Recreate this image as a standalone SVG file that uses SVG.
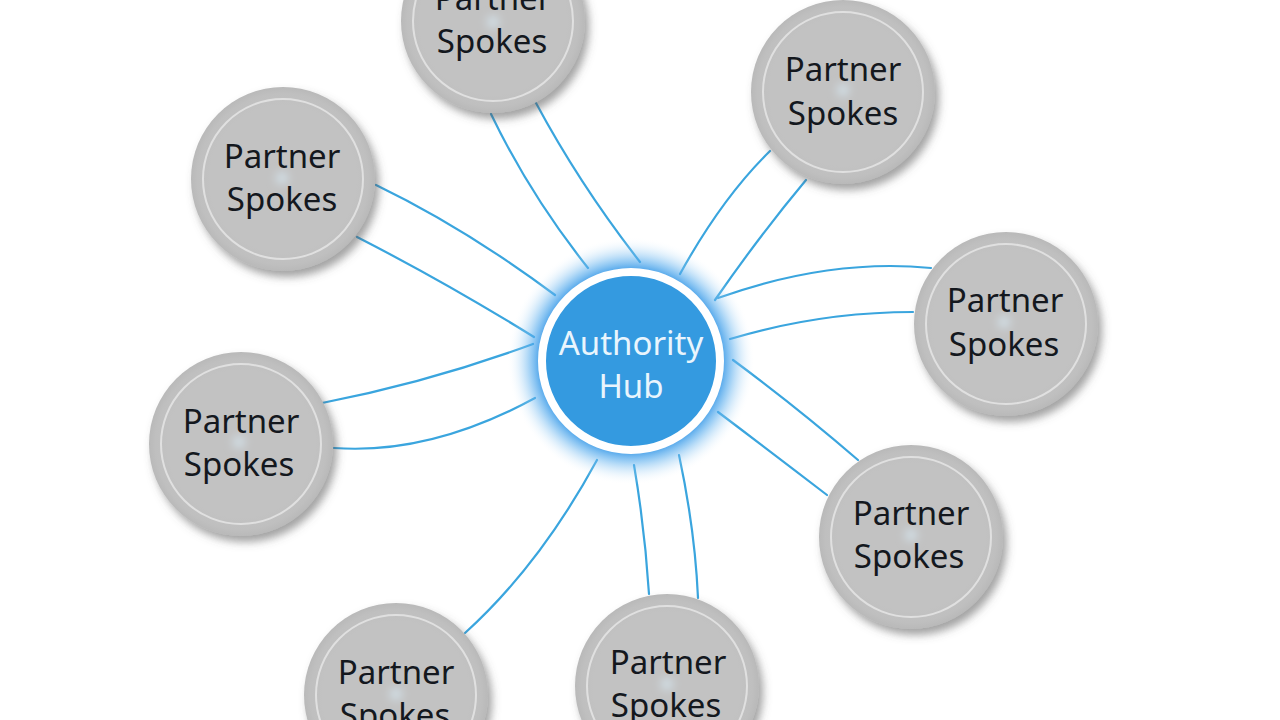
<svg xmlns="http://www.w3.org/2000/svg" width="1280" height="720" viewBox="0 0 1280 720">
<style>
.c{fill:none;stroke:#3aa5de;stroke-width:2.2;stroke-linecap:round}
.d{fill:url(#disc);filter:url(#sh)}
.r{fill:none;stroke:#e0e0e0;stroke-width:2}
.s{fill:#d4e2ea;filter:url(#b4)}
.t{font-family:"Noto Sans","Open Sans",sans-serif;font-size:33px;fill:#14181e;text-anchor:middle}
.h{font-family:"Noto Sans","Open Sans",sans-serif;font-size:33px;fill:#e9f5fd;text-anchor:middle}
</style>
<defs>
<radialGradient id="disc"><stop offset="0.8" stop-color="#c2c2c2"/><stop offset="0.93" stop-color="#bfbfbf"/><stop offset="1" stop-color="#b9b9b9"/></radialGradient>
<radialGradient id="halo"><stop offset="0.72" stop-color="#2f94e6" stop-opacity="0.95"/><stop offset="0.82" stop-color="#5aaeee" stop-opacity="0.55"/><stop offset="0.92" stop-color="#a5d3f5" stop-opacity="0.2"/><stop offset="1" stop-color="#fff" stop-opacity="0"/></radialGradient>
<filter id="sh" x="-20%" y="-20%" width="140%" height="140%"><feDropShadow dx="4" dy="6" stdDeviation="4" flood-color="#555" flood-opacity="0.55"/></filter>
<filter id="b4" x="-100%" y="-100%" width="300%" height="300%"><feGaussianBlur stdDeviation="5"/></filter>
</defs>
<rect width="1280" height="720" fill="#fff"/>
<g id="connectors">
<path class="c" d="M491 114Q530 195 588 268"/>
<path class="c" d="M536 103Q580 185 640 262"/>
<path class="c" d="M770 151Q722 198 680 274"/>
<path class="c" d="M806 180Q760 235 715 300"/>
<path class="c" d="M931 268Q830 258 718 298"/>
<path class="c" d="M913 312Q820 312 730 339"/>
<path class="c" d="M858 460Q798 408 733 360"/>
<path class="c" d="M827 495Q775 455 718 412"/>
<path class="c" d="M698 598Q695 530 679 455"/>
<path class="c" d="M649 594Q645 530 634 465"/>
<path class="c" d="M465 633Q540 565 597 460"/>
<path class="c" d="M334 448Q430 455 535 398"/>
<path class="c" d="M322 403Q430 382 533 344"/>
<path class="c" d="M357 237Q445 282 534 337"/>
<path class="c" d="M376 185Q465 228 555 295"/>
</g>
<g id="hub">
<circle cx="631" cy="361" r="124" fill="url(#halo)"/>
<circle cx="631" cy="361" r="89" fill="#349ae0" stroke="#fff" stroke-width="8"/>
<text class="h" x="631" y="355">Authority</text>
<text class="h" x="631" y="398">Hub</text>
</g>
<g id="n1"><circle class="d" cx="493" cy="21" r="92"/><circle class="r" cx="493" cy="21" r="80"/><circle class="s" cx="493" cy="22" r="6"/><text class="t" x="493" y="10">Partner</text><text class="t" x="492" y="53">Spokes</text></g>
<g id="n2"><circle class="d" cx="843" cy="92" r="92"/><circle class="r" cx="843" cy="92" r="80"/><circle class="s" cx="843" cy="90" r="6"/><text class="t" x="843" y="81">Partner</text><text class="t" x="843" y="125">Spokes</text></g>
<g id="n3"><circle class="d" cx="1006" cy="324" r="92"/><circle class="r" cx="1006" cy="324" r="80"/><circle class="s" cx="1004" cy="322" r="6"/><text class="t" x="1005" y="312">Partner</text><text class="t" x="1004" y="356">Spokes</text></g>
<g id="n4"><circle class="d" cx="911" cy="537" r="92"/><circle class="r" cx="911" cy="537" r="80"/><circle class="s" cx="911" cy="535" r="6"/><text class="t" x="911" y="525">Partner</text><text class="t" x="909" y="568">Spokes</text></g>
<g id="n5"><circle class="d" cx="667" cy="686" r="92"/><circle class="r" cx="667" cy="686" r="80"/><circle class="s" cx="667" cy="684" r="6"/><text class="t" x="668" y="674">Partner</text><text class="t" x="666" y="717">Spokes</text></g>
<g id="n6"><circle class="d" cx="396" cy="695" r="92"/><circle class="r" cx="396" cy="695" r="80"/><circle class="s" cx="396" cy="694" r="6"/><text class="t" x="396" y="684">Partner</text><text class="t" x="395" y="727">Spokes</text></g>
<g id="n7"><circle class="d" cx="241" cy="444" r="92"/><circle class="r" cx="241" cy="444" r="80"/><circle class="s" cx="239" cy="442" r="6"/><text class="t" x="241" y="433">Partner</text><text class="t" x="239" y="476">Spokes</text></g>
<g id="n8"><circle class="d" cx="283" cy="179" r="92"/><circle class="r" cx="283" cy="179" r="80"/><circle class="s" cx="282" cy="178" r="6"/><text class="t" x="282" y="168">Partner</text><text class="t" x="282" y="211">Spokes</text></g>
</svg>
